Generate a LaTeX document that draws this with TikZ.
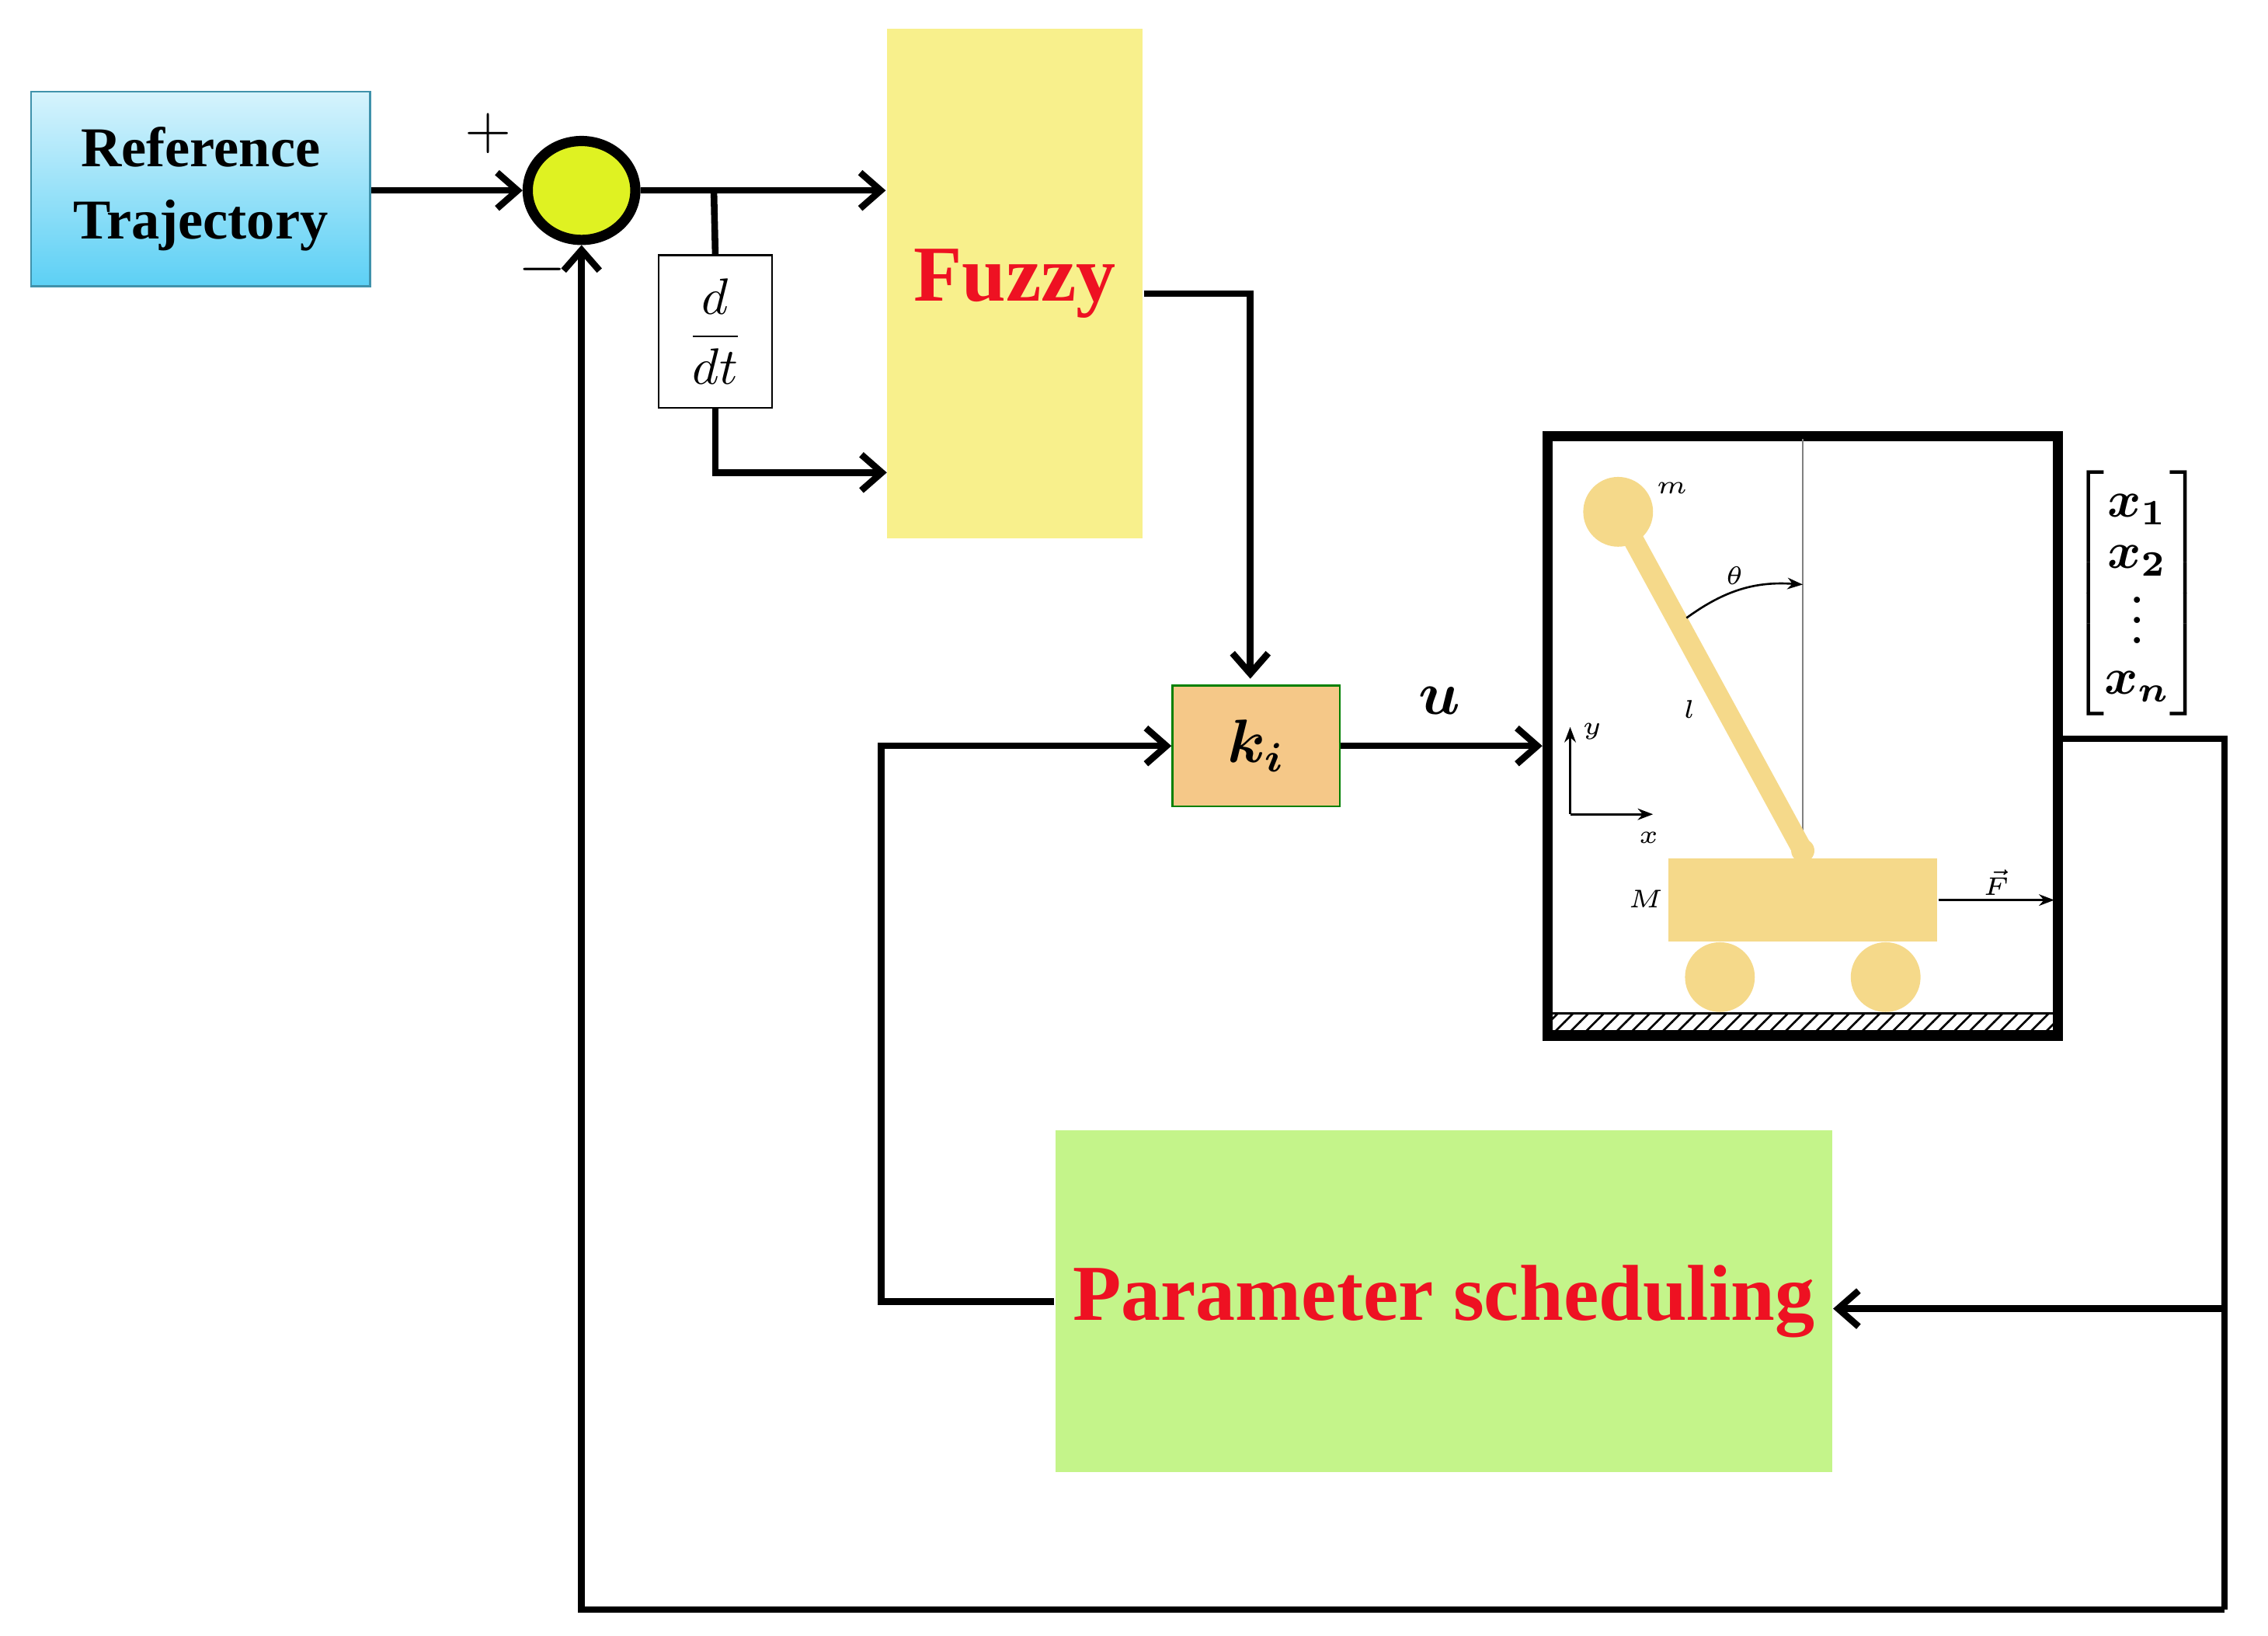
\documentclass[tikz,border=0pt]{standalone}
\usepackage{fontspec}
\setmainfont{Liberation Serif}
\usepackage{amsmath,bm}
\usetikzlibrary{positioning,shapes.geometric,arrows.meta,calc,patterns}
\definecolor{refblue}{HTML}{5CD0F5}
\definecolor{sumyel}{HTML}{DFF222}
\definecolor{fuzzyel}{HTML}{F8F08C}
\definecolor{kibox}{HTML}{F5C888}
\definecolor{paramgr}{HTML}{C4F48A}
\definecolor{cart}{HTML}{F5D98A}
\definecolor{txtred}{HTML}{EE1122}
\begin{document}
\begin{tikzpicture}[x=0.01cm,y=-0.01cm]

	\tikzstyle{block} = [rectangle,inner sep=0pt]
	\tikzstyle{flecha} = [-{Straight Barb[length=4pt,width=7pt]},line width=1.3pt]
	\tikzstyle{linea} = [line width=1.3pt]
	\tikzstyle{titulo} = [font=\bfseries\fontsize{15.5}{18}\selectfont,text=txtred]

	\useasboundingbox (0,0) rectangle (1560,1125);

	\node[block,top color=refblue!25,bottom color=refblue,draw=refblue!70!black,minimum width=2.33cm,minimum height=1.34cm,align=center,font=\bfseries\fontsize{11}{14}\selectfont] (ref) at (138,130) {Reference\\Trajectory};
	\node[ellipse,draw=black,line width=2pt,fill=sumyel,minimum width=0.74cm,minimum height=0.68cm] (sum) at (400,131) {};
	\node (plus) at (336,92) {\large $+$};
	\node (minus) at (373,185) {\large $-$};
	\node[block,draw=black,fill=white,minimum width=0.78cm,minimum height=1.05cm] (ddt) at (492,228) {$\dfrac{d}{dt}$};
	\node[block,fill=fuzzyel,minimum width=1.76cm,minimum height=3.5cm,titulo] (fuzzy) at (698,195) {Fuzzy};
	\node[block,fill=kibox,draw=green!50!black,minimum width=1.15cm,minimum height=0.83cm] (ki) at (864,513) {\large $\bm{k_i}$};
	\node[block,draw=black,line width=2pt,minimum width=3.51cm,minimum height=4.12cm] (plant) at (1240,506) {};
	\node[block,fill=paramgr,minimum width=5.34cm,minimum height=2.35cm,titulo] (param) at (993,895) {Parameter scheduling};
	\node (u) at (990,482) {\large $\bm{u}$};
	\node (states) at (1470,408) {$\begin{bmatrix}\bm{x_1}\\[-2pt]\bm{x_2}\\[-4pt]\vdots\\[-2pt]\bm{x_n}\end{bmatrix}$};

	% cart-pole
	\draw[gray,thin] (1240,302) -- (1240,588);
	\draw[cart,line width=4pt] (1113,352) -- (1240,585);
	\fill[cart] (1113,352) circle (24);
	\fill[cart] (1240,585) circle (8);
	\draw[-{Stealth[length=3pt]},thin] (1160,425) to[bend left=20] (1240,402);
	\node[font=\tiny] (th) at (1193,396) {$\theta$};
	\node[font=\tiny] (m) at (1150,336) {$m$};
	\node[font=\tiny] (l) at (1162,488) {$l$};
	\node[block,fill=cart,minimum width=1.85cm,minimum height=0.57cm] (cartbox) at (1240,619) {};
	\fill[cart] (1183,672) circle (24) (1297,672) circle (24);
	\fill[pattern=north east lines] (1068,697) rectangle (1413,708);
	\draw[thin] (1068,697) -- (1413,697);
	\coordinate (o) at (1080,560);
	\draw[-{Stealth[length=3pt]},thin] (o) -- (1080,500);
	\draw[-{Stealth[length=3pt]},thin] (o) -- (1137,560);
	\node[font=\tiny] at (1095,503) {$y$};
	\node[font=\tiny] at (1134,576) {$x$};
	\node[font=\tiny] at (1132,618) {$M$};
	\draw[-{Stealth[length=3pt]},thin] (cartbox.east) -- (1413,619);
	\node[font=\tiny] at (1373,607) {$\vec F$};

	% connections
	\coordinate (br1) at (491,131);
	\coordinate (fz2) at (610,325);
	\coordinate (fo) at (860,202);
	\coordinate (out1) at (1530,508);
	\coordinate (out2) at (1530,1107);
	\coordinate (out3) at (1530,900);
	\coordinate (kin) at (606,513);

	\draw[flecha] (ref.east |- sum) -- (sum.west);
	\draw[flecha] (sum.east) -- (fuzzy.west |- sum);
	\draw[linea] (br1) -- (ddt.north);
	\draw[flecha] (ddt.south) |- (fz2);
	\draw[flecha] (fuzzy.east |- fo) -- (fo) -- ($(ki.north)+(-4,-4)$);
	\draw[flecha] (ki.east) -- (plant.west |- ki);
	\draw[linea] (plant.east |- out1) -- (out1) -- (out2);
	\draw[flecha] (out2) -| (sum.south);
	\draw[flecha] (out3) -- (param.east |- out3);
	\draw[flecha] (param.west) -| (kin) -- (ki.west);

\end{tikzpicture}
\end{document}
